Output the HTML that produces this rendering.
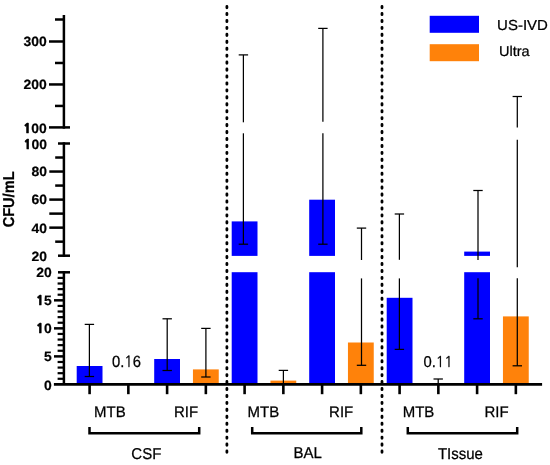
<!DOCTYPE html>
<html><head><meta charset="utf-8"><style>
html,body{margin:0;padding:0;background:#fff;}
body{width:550px;height:465px;overflow:hidden;}
svg{display:block;}
text{font-family:"Liberation Sans",Arial,sans-serif;fill:#000;text-rendering:geometricPrecision;}
.yl{font-size:13.5px;font-weight:bold;stroke:#000;stroke-width:0.2px;}
.yt{font-size:14.6px;font-weight:bold;stroke:#000;stroke-width:0.2px;}
.vl{font-size:14.8px;stroke:#000;stroke-width:0.25px;}
.xl{font-size:15px;stroke:#000;stroke-width:0.25px;}
.n1{font-family:NanumGothic,"Liberation Sans",sans-serif;font-size:0.95em;}
.n1b{font-family:NanumGothic,"Liberation Sans",sans-serif;font-weight:800;font-size:0.95em;stroke-width:0.6px;}
.lg{font-size:15px;stroke:#000;stroke-width:0.25px;}
</style></head><body>
<svg width="550" height="465" viewBox="0 0 550 465">
<rect width="550" height="465" fill="#fff"/>
<line x1="226.9" y1="6.45" x2="226.9" y2="453.5" stroke="#000" stroke-width="2.8" stroke-linecap="round" stroke-dasharray="1.3 5.645"/>
<line x1="382.0" y1="6.45" x2="382.0" y2="453.5" stroke="#000" stroke-width="2.8" stroke-linecap="round" stroke-dasharray="1.3 5.645"/>
<rect x="76.7" y="366" width="25.8" height="18.4" fill="#0000FF"/>
<rect x="154.2" y="359" width="25.8" height="25.4" fill="#0000FF"/>
<rect x="192.95" y="369.4" width="25.8" height="15" fill="#FF820A"/>
<rect x="231.7" y="221.4" width="25.8" height="34.5" fill="#0000FF"/>
<rect x="231.7" y="272.2" width="25.8" height="112.2" fill="#0000FF"/>
<rect x="270.45" y="380.6" width="25.8" height="3.8" fill="#FF820A"/>
<rect x="309.2" y="199.7" width="25.8" height="56.2" fill="#0000FF"/>
<rect x="309.2" y="272.2" width="25.8" height="112.2" fill="#0000FF"/>
<rect x="347.95" y="342.5" width="25.8" height="41.9" fill="#FF820A"/>
<rect x="386.7" y="297.8" width="25.8" height="86.6" fill="#0000FF"/>
<rect x="464.2" y="251.6" width="25.8" height="4.3" fill="#0000FF"/>
<rect x="464.2" y="272.2" width="25.8" height="112.2" fill="#0000FF"/>
<rect x="502.95" y="316.4" width="25.8" height="68" fill="#FF820A"/>
<line x1="89.4" y1="324.4" x2="89.4" y2="376.5" stroke="#000" stroke-width="1.25"/>
<line x1="84.7" y1="324.4" x2="94.1" y2="324.4" stroke="#000" stroke-width="1.25"/>
<line x1="84.7" y1="376.5" x2="94.1" y2="376.5" stroke="#000" stroke-width="1.25"/>
<line x1="167.2" y1="318.8" x2="167.2" y2="370.5" stroke="#000" stroke-width="1.25"/>
<line x1="162.5" y1="318.8" x2="171.9" y2="318.8" stroke="#000" stroke-width="1.25"/>
<line x1="162.5" y1="370.5" x2="171.9" y2="370.5" stroke="#000" stroke-width="1.25"/>
<line x1="205.9" y1="328.4" x2="205.9" y2="377" stroke="#000" stroke-width="1.25"/>
<line x1="201.2" y1="328.4" x2="210.6" y2="328.4" stroke="#000" stroke-width="1.25"/>
<line x1="201.2" y1="377" x2="210.6" y2="377" stroke="#000" stroke-width="1.25"/>
<line x1="243.4" y1="54.9" x2="243.4" y2="122.3" stroke="#000" stroke-width="1.25"/>
<line x1="243.4" y1="133.3" x2="243.4" y2="244.2" stroke="#000" stroke-width="1.25"/>
<line x1="238.7" y1="54.9" x2="248.1" y2="54.9" stroke="#000" stroke-width="1.25"/>
<line x1="238.7" y1="244.2" x2="248.1" y2="244.2" stroke="#000" stroke-width="1.25"/>
<line x1="283.4" y1="370.4" x2="283.4" y2="383" stroke="#000" stroke-width="1.25"/>
<line x1="278.7" y1="370.4" x2="288.1" y2="370.4" stroke="#000" stroke-width="1.25"/>
<line x1="322.9" y1="28.4" x2="322.9" y2="121.8" stroke="#000" stroke-width="1.25"/>
<line x1="322.9" y1="133.3" x2="322.9" y2="244.2" stroke="#000" stroke-width="1.25"/>
<line x1="318.2" y1="28.4" x2="327.6" y2="28.4" stroke="#000" stroke-width="1.25"/>
<line x1="318.2" y1="244.2" x2="327.6" y2="244.2" stroke="#000" stroke-width="1.25"/>
<line x1="361.5" y1="228.1" x2="361.5" y2="260" stroke="#000" stroke-width="1.25"/>
<line x1="361.5" y1="278.4" x2="361.5" y2="365.3" stroke="#000" stroke-width="1.25"/>
<line x1="356.8" y1="228.1" x2="366.2" y2="228.1" stroke="#000" stroke-width="1.25"/>
<line x1="356.8" y1="365.3" x2="366.2" y2="365.3" stroke="#000" stroke-width="1.25"/>
<line x1="399.4" y1="214" x2="399.4" y2="259.8" stroke="#000" stroke-width="1.25"/>
<line x1="399.4" y1="278.4" x2="399.4" y2="349.4" stroke="#000" stroke-width="1.25"/>
<line x1="394.7" y1="214" x2="404.1" y2="214" stroke="#000" stroke-width="1.25"/>
<line x1="394.7" y1="349.4" x2="404.1" y2="349.4" stroke="#000" stroke-width="1.25"/>
<line x1="438.2" y1="379" x2="438.2" y2="383" stroke="#000" stroke-width="1.25"/>
<line x1="433.5" y1="379" x2="442.9" y2="379" stroke="#000" stroke-width="1.25"/>
<line x1="478" y1="190.5" x2="478" y2="260" stroke="#000" stroke-width="1.25"/>
<line x1="478" y1="278.2" x2="478" y2="318.8" stroke="#000" stroke-width="1.25"/>
<line x1="473.3" y1="190.5" x2="482.7" y2="190.5" stroke="#000" stroke-width="1.25"/>
<line x1="473.3" y1="318.8" x2="482.7" y2="318.8" stroke="#000" stroke-width="1.25"/>
<line x1="517.3" y1="96.5" x2="517.3" y2="127.4" stroke="#000" stroke-width="1.25"/>
<line x1="517.3" y1="139.8" x2="517.3" y2="267.3" stroke="#000" stroke-width="1.25"/>
<line x1="517.3" y1="278.2" x2="517.3" y2="365.8" stroke="#000" stroke-width="1.25"/>
<line x1="512.6" y1="96.5" x2="522" y2="96.5" stroke="#000" stroke-width="1.25"/>
<line x1="512.6" y1="365.8" x2="522" y2="365.8" stroke="#000" stroke-width="1.25"/>
<line x1="63.9" y1="15" x2="63.9" y2="128.65" stroke="#000" stroke-width="2.5"/>
<line x1="63.9" y1="142.25" x2="63.9" y2="256.95" stroke="#000" stroke-width="2.5"/>
<line x1="63.9" y1="271.05" x2="63.9" y2="384.4" stroke="#000" stroke-width="2.5"/>
<line x1="53.9" y1="384.4" x2="542.1" y2="384.4" stroke="#000" stroke-width="2.6"/>
<line x1="89.6" y1="384.4" x2="89.6" y2="394.2" stroke="#000" stroke-width="2.6"/>
<line x1="128.35" y1="384.4" x2="128.35" y2="394.2" stroke="#000" stroke-width="2.6"/>
<line x1="167.1" y1="384.4" x2="167.1" y2="394.2" stroke="#000" stroke-width="2.6"/>
<line x1="205.85" y1="384.4" x2="205.85" y2="394.2" stroke="#000" stroke-width="2.6"/>
<line x1="244.6" y1="384.4" x2="244.6" y2="394.2" stroke="#000" stroke-width="2.6"/>
<line x1="283.35" y1="384.4" x2="283.35" y2="394.2" stroke="#000" stroke-width="2.6"/>
<line x1="322.1" y1="384.4" x2="322.1" y2="394.2" stroke="#000" stroke-width="2.6"/>
<line x1="360.85" y1="384.4" x2="360.85" y2="394.2" stroke="#000" stroke-width="2.6"/>
<line x1="399.6" y1="384.4" x2="399.6" y2="394.2" stroke="#000" stroke-width="2.6"/>
<line x1="438.35" y1="384.4" x2="438.35" y2="394.2" stroke="#000" stroke-width="2.6"/>
<line x1="477.1" y1="384.4" x2="477.1" y2="394.2" stroke="#000" stroke-width="2.6"/>
<line x1="515.85" y1="384.4" x2="515.85" y2="394.2" stroke="#000" stroke-width="2.6"/>
<line x1="49" y1="41.5" x2="63.9" y2="41.5" stroke="#000" stroke-width="2.5"/>
<line x1="49" y1="84.45" x2="63.9" y2="84.45" stroke="#000" stroke-width="2.5"/>
<line x1="55" y1="19.5" x2="63.9" y2="19.5" stroke="#000" stroke-width="2.5"/>
<line x1="55" y1="62.98" x2="63.9" y2="62.98" stroke="#000" stroke-width="2.5"/>
<line x1="55" y1="105.93" x2="63.9" y2="105.93" stroke="#000" stroke-width="2.5"/>
<line x1="49" y1="127.4" x2="70" y2="127.4" stroke="#000" stroke-width="2.5"/>
<line x1="58" y1="143.5" x2="70" y2="143.5" stroke="#000" stroke-width="2.5"/>
<line x1="58" y1="255.7" x2="70" y2="255.7" stroke="#000" stroke-width="2.5"/>
<line x1="49.3" y1="171.55" x2="63.9" y2="171.55" stroke="#000" stroke-width="2.5"/>
<line x1="49.3" y1="199.6" x2="63.9" y2="199.6" stroke="#000" stroke-width="2.5"/>
<line x1="49.3" y1="213.62" x2="63.9" y2="213.62" stroke="#000" stroke-width="2.5"/>
<line x1="49.3" y1="227.65" x2="63.9" y2="227.65" stroke="#000" stroke-width="2.5"/>
<line x1="55.2" y1="157.52" x2="63.9" y2="157.52" stroke="#000" stroke-width="2.5"/>
<line x1="55.2" y1="185.57" x2="63.9" y2="185.57" stroke="#000" stroke-width="2.5"/>
<line x1="55.2" y1="241.67" x2="63.9" y2="241.67" stroke="#000" stroke-width="2.5"/>
<line x1="58" y1="272.3" x2="70" y2="272.3" stroke="#000" stroke-width="2.5"/>
<line x1="54" y1="300.32" x2="63.9" y2="300.32" stroke="#000" stroke-width="2.5"/>
<line x1="54" y1="328.35" x2="63.9" y2="328.35" stroke="#000" stroke-width="2.5"/>
<line x1="54" y1="356.38" x2="63.9" y2="356.38" stroke="#000" stroke-width="2.5"/>
<line x1="57.6" y1="378.79" x2="63.9" y2="378.79" stroke="#000" stroke-width="2.2"/>
<line x1="57.6" y1="373.19" x2="63.9" y2="373.19" stroke="#000" stroke-width="2.2"/>
<line x1="57.6" y1="367.58" x2="63.9" y2="367.58" stroke="#000" stroke-width="2.2"/>
<line x1="57.6" y1="361.98" x2="63.9" y2="361.98" stroke="#000" stroke-width="2.2"/>
<line x1="57.6" y1="350.77" x2="63.9" y2="350.77" stroke="#000" stroke-width="2.2"/>
<line x1="57.6" y1="345.16" x2="63.9" y2="345.16" stroke="#000" stroke-width="2.2"/>
<line x1="57.6" y1="339.56" x2="63.9" y2="339.56" stroke="#000" stroke-width="2.2"/>
<line x1="57.6" y1="333.95" x2="63.9" y2="333.95" stroke="#000" stroke-width="2.2"/>
<line x1="57.6" y1="322.75" x2="63.9" y2="322.75" stroke="#000" stroke-width="2.2"/>
<line x1="57.6" y1="317.14" x2="63.9" y2="317.14" stroke="#000" stroke-width="2.2"/>
<line x1="57.6" y1="311.53" x2="63.9" y2="311.53" stroke="#000" stroke-width="2.2"/>
<line x1="57.6" y1="305.93" x2="63.9" y2="305.93" stroke="#000" stroke-width="2.2"/>
<line x1="57.6" y1="294.72" x2="63.9" y2="294.72" stroke="#000" stroke-width="2.2"/>
<line x1="57.6" y1="289.11" x2="63.9" y2="289.11" stroke="#000" stroke-width="2.2"/>
<line x1="57.6" y1="283.51" x2="63.9" y2="283.51" stroke="#000" stroke-width="2.2"/>
<line x1="57.6" y1="277.9" x2="63.9" y2="277.9" stroke="#000" stroke-width="2.2"/>
<text class="yl" transform="translate(46.7,45.9) scale(1.03,1.0)" text-anchor="end">300</text>
<text class="yl" transform="translate(46.7,88.85) scale(1.03,1.0)" text-anchor="end">200</text>
<text class="yl" transform="translate(46.7,132.5) scale(1.03,1.0)" text-anchor="end"><tspan class="n1b">1</tspan>00</text>
<text class="yl" transform="translate(47.1,148.8) scale(1.03,1.0)" text-anchor="end"><tspan class="n1b">1</tspan>00</text>
<text class="yl" transform="translate(47.1,176.05) scale(1.03,1.0)" text-anchor="end">80</text>
<text class="yl" transform="translate(47.1,204.4) scale(1.03,1.0)" text-anchor="end">60</text>
<text class="yl" transform="translate(47.1,232.65) scale(1.03,1.0)" text-anchor="end">40</text>
<text class="yl" transform="translate(47.1,260.6) scale(1.03,1.0)" text-anchor="end">20</text>
<text class="yl" transform="translate(51.7,277.4) scale(1.03,1.0)" text-anchor="end">20</text>
<text class="yl" transform="translate(51.7,361.48) scale(1.03,1.0)" text-anchor="end">5</text>
<text class="yl" transform="translate(51.7,389.5) scale(1.03,1.0)" text-anchor="end">0</text>
<text class="yl" transform="translate(51.7,305.02) scale(1.03,1.0)" text-anchor="end"><tspan class="n1b">1</tspan>5</text>
<text class="yl" transform="translate(51.7,333.05) scale(1.03,1.0)" text-anchor="end"><tspan class="n1b">1</tspan>0</text>
<text class="yt" transform="translate(14.4,199.4) rotate(-90) scale(1,1.08)" text-anchor="middle">CFU/mL</text>
<text class="vl" transform="translate(112,367.1) scale(1.0,1.1)">0.<tspan class="n1">1</tspan>6</text>
<text class="vl" transform="translate(423.4,366.8) scale(1.0,1.06)">0.<tspan class="n1">1</tspan><tspan class="n1">1</tspan></text>
<text class="xl" transform="translate(109.8,416.9) scale(1.0,1.02)" text-anchor="middle">MTB</text>
<text class="xl" transform="translate(186.1,416.9) scale(1.0,1.02)" text-anchor="middle">RIF</text>
<text class="xl" transform="translate(263.3,416.9) scale(1.0,1.02)" text-anchor="middle">MTB</text>
<text class="xl" transform="translate(341.2,416.9) scale(1.0,1.02)" text-anchor="middle">RIF</text>
<text class="xl" transform="translate(418.5,416.9) scale(1.0,1.02)" text-anchor="middle">MTB</text>
<text class="xl" transform="translate(496.5,416.9) scale(1.0,1.02)" text-anchor="middle">RIF</text>
<path d="M89.5 427 V433.3 H199.2 V427" fill="none" stroke="#000" stroke-width="2.5"/>
<path d="M252.2 427 V433.3 H361.3 V427" fill="none" stroke="#000" stroke-width="2.5"/>
<path d="M407.8 427 V433.3 H517.2 V427" fill="none" stroke="#000" stroke-width="2.5"/>
<text class="xl" transform="translate(146.3,458.8) scale(1.0,1.05)" text-anchor="middle">CSF</text>
<text class="xl" transform="translate(307.6,458.2) scale(1.0,1.05)" text-anchor="middle">BAL</text>
<text class="xl" transform="translate(460.4,458.6) scale(1.0,1.05)" text-anchor="middle">TIssue</text>
<rect x="429.7" y="15.8" width="49.3" height="17" fill="#0000FF"/>
<rect x="429.7" y="44.2" width="49.3" height="17" fill="#FF820A"/>
<text class="lg" transform="translate(497.05,30.3) scale(1.0,0.97)">US-IVD</text>
<text class="lg" transform="translate(498.9,56.3) scale(0.97,0.95)">Ultra</text>
</svg>
</body></html>
